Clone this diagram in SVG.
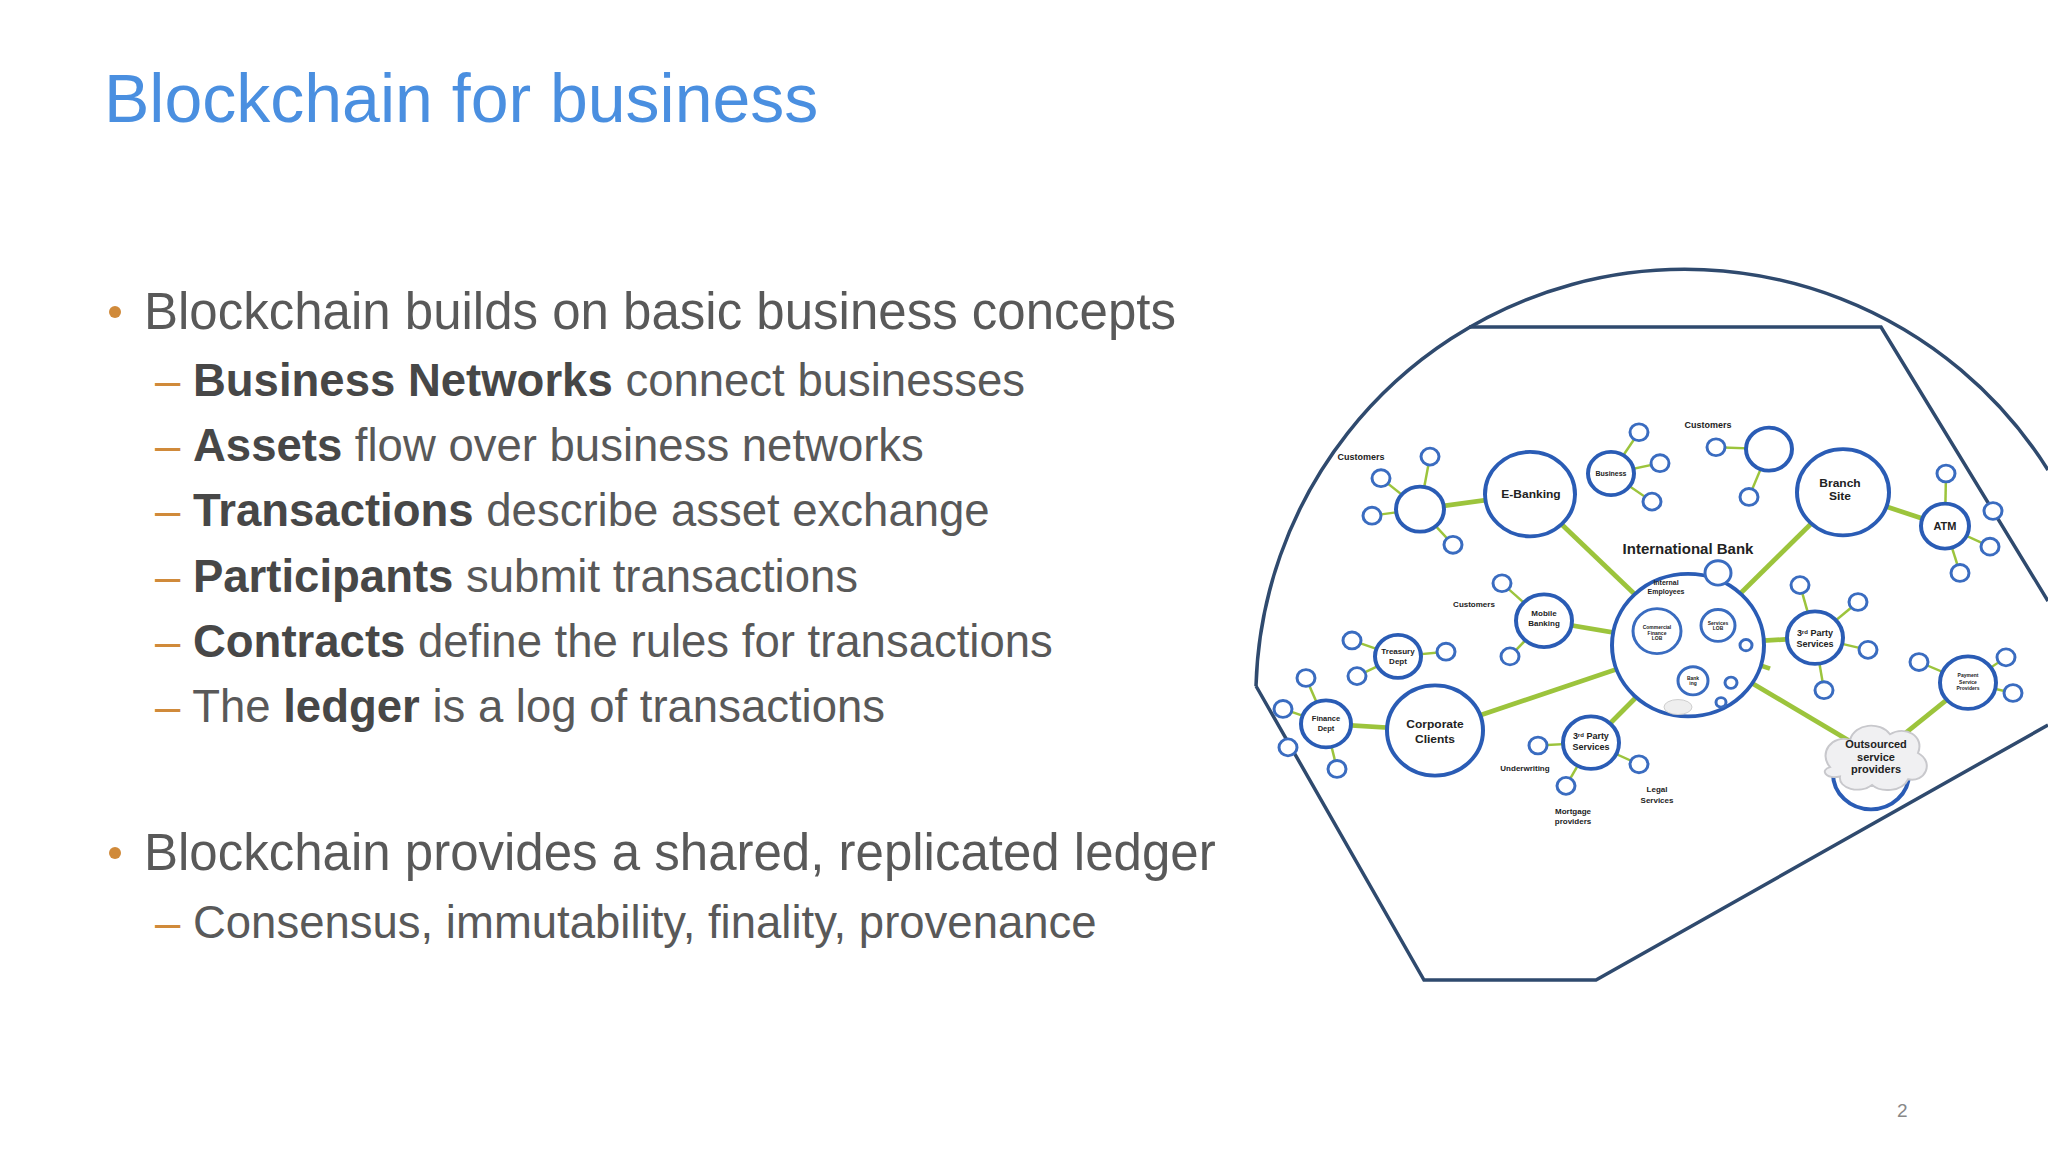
<svg xmlns="http://www.w3.org/2000/svg" width="2048" height="1152" viewBox="0 0 2048 1152">
<style>
.t{font-family:"Liberation Sans",Arial,sans-serif;fill:#595959}
.b{font-weight:bold;fill:#474747}
.o{fill:#d08a3a}
.c{fill:#fff;stroke:#2a5cb5;stroke-width:4}
.s{fill:#fff;stroke:#3a6cc0;stroke-width:3}
.g{stroke:#9cc43c;stroke-width:5;fill:none}
.l{font-family:"Liberation Sans",Arial,sans-serif;font-weight:bold;fill:#222;text-anchor:middle}
</style>
<rect width="2048" height="1152" fill="#fff"/>
<text x="104" y="122" font-family="Liberation Sans,Arial,sans-serif" font-size="68" fill="#4a8fe0">Blockchain for business</text>
<g class="t" font-size="51">
<circle cx="115" cy="312" r="6" class="o"/>
<text x="144" y="329">Blockchain builds on basic business concepts</text>
<circle cx="115" cy="853" r="6" class="o"/>
<text x="144" y="870">Blockchain provides a shared, replicated ledger</text>
</g>
<g class="t" font-size="45.5">
<text x="155" y="396"><tspan class="o">–</tspan> <tspan class="b">Business Networks</tspan> connect businesses</text>
<text x="155" y="461"><tspan class="o">–</tspan> <tspan class="b">Assets</tspan> flow over business networks</text>
<text x="155" y="526"><tspan class="o">–</tspan> <tspan class="b">Transactions</tspan> describe asset exchange</text>
<text x="155" y="592"><tspan class="o">–</tspan> <tspan class="b">Participants</tspan> submit transactions</text>
<text x="155" y="657"><tspan class="o">–</tspan> <tspan class="b">Contracts</tspan> define the rules for transactions</text>
<text x="155" y="722"><tspan class="o">–</tspan> The <tspan class="b">ledger</tspan> is a log of transactions</text>
<text x="155" y="938"><tspan class="o">–</tspan> Consensus, immutability, finality, provenance</text>
</g>
<text x="1897" y="1117" font-family="Liberation Sans,Arial,sans-serif" font-size="19" fill="#888">2</text>

<g id="outline" fill="none" stroke="#2f4a6e" stroke-width="3.5">
<path d="M1256,686 A429,429 0 0 1 2048,470"/>
<path d="M1469,327 L1881,327 L2048,601"/>
<path d="M1256,686 L1424,980 L1596,980 L2048,725"/>
</g>

<g transform="translate(0,12) scale(1,0.938)">
<g id="connectors" class="g">
<line x1="1530" y1="514" x2="1688" y2="675"/>
<line x1="1530" y1="514" x2="1420" y2="530"/>
<line x1="1843" y1="512" x2="1688" y2="675"/>
<line x1="1843" y1="512" x2="1945" y2="548"/>
<line x1="1544" y1="649" x2="1688" y2="675"/>
<line x1="1435" y1="766" x2="1688" y2="675"/>
<line x1="1435" y1="766" x2="1326" y2="759"/>
<line x1="1591" y1="779" x2="1688" y2="675"/>
<line x1="1815" y1="667" x2="1688" y2="675"/>
<line x1="1688" y1="675" x2="1876" y2="794"/>
<line x1="1876" y1="794" x2="1968" y2="715"/>
<line x1="1657" y1="660" x2="1770" y2="700"/>
<g stroke-width="2.5">
<line x1="1420" y1="530" x2="1430" y2="474"/><line x1="1420" y1="530" x2="1381" y2="497"/><line x1="1420" y1="530" x2="1372" y2="537"/><line x1="1420" y1="530" x2="1453" y2="568"/>
<line x1="1611" y1="492" x2="1639" y2="448"/><line x1="1611" y1="492" x2="1660" y2="481"/><line x1="1611" y1="492" x2="1652" y2="522"/>
<line x1="1769" y1="466" x2="1716" y2="464"/><line x1="1769" y1="466" x2="1749" y2="517"/>
<line x1="1945" y1="548" x2="1946" y2="492"/><line x1="1945" y1="548" x2="1990" y2="570"/><line x1="1945" y1="548" x2="1960" y2="598"/>
<line x1="1544" y1="649" x2="1502" y2="609"/><line x1="1544" y1="649" x2="1510" y2="687"/>
<line x1="1398" y1="687" x2="1352" y2="670"/><line x1="1398" y1="687" x2="1446" y2="682"/><line x1="1398" y1="687" x2="1357" y2="708"/>
<line x1="1326" y1="759" x2="1306" y2="710"/><line x1="1326" y1="759" x2="1283" y2="743"/><line x1="1326" y1="759" x2="1337" y2="807"/>
<line x1="1591" y1="779" x2="1538" y2="782"/><line x1="1591" y1="779" x2="1566" y2="825"/><line x1="1591" y1="779" x2="1639" y2="802"/>
<line x1="1815" y1="667" x2="1800" y2="611"/><line x1="1815" y1="667" x2="1858" y2="629"/><line x1="1815" y1="667" x2="1868" y2="680"/><line x1="1815" y1="667" x2="1824" y2="723"/>
<line x1="1968" y1="715" x2="1919" y2="693"/><line x1="1968" y1="715" x2="2006" y2="688"/><line x1="1968" y1="715" x2="2013" y2="726"/>
</g>
</g>

<g id="satellites">
<circle class="s" cx="1430" cy="474" r="9"/><circle class="s" cx="1381" cy="497" r="9"/><circle class="s" cx="1372" cy="537" r="9"/><circle class="s" cx="1453" cy="568" r="9"/>
<circle class="s" cx="1639" cy="448" r="9"/><circle class="s" cx="1660" cy="481" r="9"/><circle class="s" cx="1652" cy="522" r="9"/>
<circle class="s" cx="1716" cy="464" r="9"/><circle class="s" cx="1749" cy="517" r="9"/>
<circle class="s" cx="1946" cy="492" r="9"/><circle class="s" cx="1990" cy="570" r="9"/><circle class="s" cx="1960" cy="598" r="9"/><circle class="s" cx="1993" cy="532" r="9"/>
<circle class="s" cx="1502" cy="609" r="9"/><circle class="s" cx="1510" cy="687" r="9"/>
<circle class="s" cx="1352" cy="670" r="9"/><circle class="s" cx="1446" cy="682" r="9"/><circle class="s" cx="1357" cy="708" r="9"/>
<circle class="s" cx="1306" cy="710" r="9"/><circle class="s" cx="1283" cy="743" r="9"/><circle class="s" cx="1288" cy="784" r="9"/><circle class="s" cx="1337" cy="807" r="9"/>
<circle class="s" cx="1538" cy="782" r="9"/><circle class="s" cx="1566" cy="825" r="9"/><circle class="s" cx="1639" cy="802" r="9"/>
<circle class="s" cx="1800" cy="611" r="9"/><circle class="s" cx="1858" cy="629" r="9"/><circle class="s" cx="1868" cy="680" r="9"/><circle class="s" cx="1824" cy="723" r="9"/>
<circle class="s" cx="1919" cy="693" r="9"/><circle class="s" cx="2006" cy="688" r="9"/><circle class="s" cx="2013" cy="726" r="9"/>
</g>

<g id="international-bank">
<circle class="c" cx="1688" cy="675" r="76" stroke-width="5"/>
<circle class="s" cx="1718" cy="598" r="13"/>
<circle class="s" cx="1657" cy="660" r="24"/>
<circle class="s" cx="1718" cy="654" r="17"/>
<circle class="s" cx="1693" cy="713" r="15"/>
<circle class="s" cx="1746" cy="675" r="6"/><circle class="s" cx="1731" cy="715" r="6"/><circle class="s" cx="1721" cy="736" r="5"/>
<ellipse cx="1678" cy="741" rx="14" ry="8" fill="#eee" stroke="#ccc"/>
<text class="l" x="1688" y="578" font-size="15">International Bank</text>
<text class="l" x="1666" y="611" font-size="7">Internal</text><text class="l" x="1666" y="620" font-size="7">Employees</text>
<text class="l" x="1657" y="658" font-size="5">Commercial</text><text class="l" x="1657" y="664" font-size="5">Finance</text><text class="l" x="1657" y="670" font-size="5">LOB</text>
<text class="l" x="1718" y="653" font-size="5">Services</text><text class="l" x="1718" y="659" font-size="5">LOB</text>
<text class="l" x="1693" y="712" font-size="5">Bank</text><text class="l" x="1693" y="718" font-size="5">ing</text>
</g>
<g id="customers-left"><circle class="c" cx="1420" cy="530" r="24"/><text class="l" x="1361" y="478" font-size="9">Customers</text></g>
<g id="e-banking"><circle class="c" cx="1530" cy="514" r="45" stroke-width="5"/><text class="l" x="1531" y="518" font-size="12">E-Banking</text></g>
<g id="business"><circle class="c" cx="1611" cy="492" r="23"/><text class="l" x="1611" y="495" font-size="7">Business</text></g>
<g id="customers-top"><circle class="c" cx="1769" cy="466" r="23"/><text class="l" x="1708" y="444" font-size="9">Customers</text></g>
<g id="branch-site"><circle class="c" cx="1843" cy="512" r="46" stroke-width="5"/><text class="l" x="1840" y="506" font-size="12">Branch</text><text class="l" x="1840" y="520" font-size="12">Site</text></g>
<g id="atm"><circle class="c" cx="1945" cy="548" r="24"/><text class="l" x="1945" y="552" font-size="11">ATM</text></g>
<g id="mobile-banking"><circle class="c" cx="1544" cy="649" r="28"/><text class="l" x="1474" y="634" font-size="8">Customers</text><text class="l" x="1544" y="644" font-size="8">Mobile</text><text class="l" x="1544" y="655" font-size="8">Banking</text></g>
<g id="treasury"><circle class="c" cx="1398" cy="687" r="23"/><text class="l" x="1398" y="684" font-size="8">Treasury</text><text class="l" x="1398" y="695" font-size="8">Dept</text></g>
<g id="finance"><circle class="c" cx="1326" cy="759" r="25"/><text class="l" x="1326" y="756" font-size="7.5">Finance</text><text class="l" x="1326" y="767" font-size="7.5">Dept</text></g>
<g id="corporate"><circle class="c" cx="1435" cy="766" r="48" stroke-width="5"/><text class="l" x="1435" y="763" font-size="12">Corporate</text><text class="l" x="1435" y="779" font-size="12">Clients</text></g>
<g id="third-party-bottom"><circle class="c" cx="1591" cy="779" r="28"/><text class="l" x="1591" y="775" font-size="9">3ʳᵈ Party</text><text class="l" x="1591" y="787" font-size="9">Services</text>
<text class="l" x="1525" y="809" font-size="8">Underwriting</text>
<text class="l" x="1573" y="855" font-size="8">Mortgage</text><text class="l" x="1573" y="866" font-size="8">providers</text>
<text class="l" x="1657" y="832" font-size="8">Legal</text><text class="l" x="1657" y="843" font-size="8">Services</text></g>
<g id="third-party-right"><circle class="c" cx="1815" cy="667" r="28"/><text class="l" x="1815" y="665" font-size="9">3ʳᵈ Party</text><text class="l" x="1815" y="677" font-size="9">Services</text></g>
<g id="payment"><circle class="c" cx="1968" cy="715" r="28"/><text class="l" x="1968" y="709" font-size="5">Payment</text><text class="l" x="1968" y="716" font-size="5">Service</text><text class="l" x="1968" y="723" font-size="5">Providers</text></g>
<g id="outsourced"><circle class="c" cx="1871" cy="812" r="38"/>
<path d="M1830,805 C1818,790 1832,770 1850,776 C1855,758 1880,756 1890,770 C1905,760 1925,772 1918,790 C1935,800 1925,822 1908,818 C1902,832 1880,832 1872,824 C1860,834 1838,828 1840,815 C1825,818 1820,808 1830,805 Z" fill="#f0f0f2" stroke="#c8c8cc" stroke-width="2"/>
<text class="l" x="1876" y="785" font-size="11">Outsourced</text><text class="l" x="1876" y="798" font-size="11">service</text><text class="l" x="1876" y="811" font-size="11">providers</text></g>
</g>
</svg>
